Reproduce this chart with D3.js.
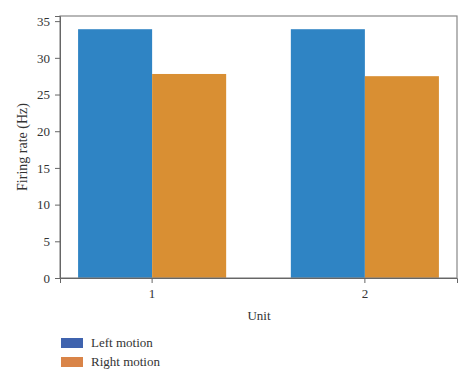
<!DOCTYPE html>
<html>
<head>
<meta charset="utf-8">
<script src="https://cdn.jsdelivr.net/npm/d3@7"></script>
<style>
  body { margin: 0; background: #fff; }
  text { font-family: "Liberation Serif", "DejaVu Serif", serif; fill: #333; }
</style>
</head>
<body>
<div id="chart"></div>
<script>
// ---------- Data ----------
const units = ["1", "2"];
const leftMotion  = [33.9, 33.9];
const rightMotion = [27.8, 27.5];
const yTicks = [0, 5, 10, 15, 20, 25, 30, 35];
const seriesNames = ["Left motion", "Right motion"];

// ---------- Layout ----------
const width = 474, height = 385;
const margin = { top: 16, right: 17, bottom: 107, left: 60 };
const innerWidth  = width - margin.left - margin.right;
const innerHeight = height - margin.top - margin.bottom;

const barColors    = ["#2f84c4", "#d98f33"];
const legendColors = ["#3f63ae", "#d98448"];

const svg = d3.select("#chart").append("svg")
  .attr("width", width)
  .attr("height", height);

const g = svg.append("g")
  .attr("transform", `translate(${margin.left},${margin.top})`);

// ---------- Scales ----------
const x = d3.scaleBand()
  .domain(units)
  .range([0, innerWidth])
  .paddingInner(0.304)
  .paddingOuter(0.085);

const y = d3.scaleLinear()
  .domain([0, 35.7])
  .range([innerHeight, 0]);

// ---------- Bars ----------
const rows = units.map((u, i) => ({ unit: u, values: [leftMotion[i], rightMotion[i]] }));
const half = x.bandwidth() / 2;

rows.forEach(r => {
  r.values.forEach((v, j) => {
    g.append("rect")
      .attr("x", x(r.unit) + j * half)
      .attr("y", y(v))
      .attr("width", half)
      .attr("height", innerHeight - y(v))
      .attr("fill", barColors[j]);
  });
});

// ---------- Frame ----------
g.append("rect")
  .attr("width", innerWidth)
  .attr("height", innerHeight)
  .attr("fill", "none")
  .attr("stroke", "#888")
  .attr("stroke-width", 1.2);

// ---------- Axes ----------
const yAxis = g.append("g")
  .call(d3.axisLeft(y).tickValues(yTicks).tickSize(5).tickPadding(5));
yAxis.select(".domain").attr("stroke", "#666");
yAxis.selectAll(".tick line").attr("stroke", "#666");
yAxis.selectAll("text").style("font-size", "13px").attr("fill", "#333");

const xAxis = g.append("g")
  .attr("transform", `translate(0,${innerHeight})`)
  .call(d3.axisBottom(x).tickSize(5).tickPadding(6));
xAxis.select(".domain").attr("stroke", "#666");
xAxis.selectAll(".tick line").attr("stroke", "#666");
xAxis.selectAll("text").style("font-size", "13px").attr("fill", "#333");

// ---------- Axis labels ----------
svg.append("text")
  .attr("x", 259)
  .attr("y", 320)
  .attr("text-anchor", "middle")
  .style("font-size", "13px")
  .text("Unit");

svg.append("text")
  .attr("transform", "rotate(-90)")
  .attr("x", -(margin.top + innerHeight / 2))
  .attr("y", 27)
  .attr("text-anchor", "middle")
  .style("font-size", "14px")
  .text("Firing rate (Hz)");

// ---------- Legend ----------
const legend = svg.append("g")
  .attr("transform", "translate(61,338)");

legend.selectAll("rect")
  .data(seriesNames)
  .enter()
  .append("rect")
  .attr("x", 0)
  .attr("y", (d, i) => i * 19)
  .attr("width", 22)
  .attr("height", 10)
  .attr("fill", (d, i) => legendColors[i]);

legend.selectAll("text")
  .data(seriesNames)
  .enter()
  .append("text")
  .attr("x", 30)
  .attr("y", (d, i) => i * 19 + 9)
  .style("font-size", "13px")
  .text(d => d);
</script>
</body>
</html>
